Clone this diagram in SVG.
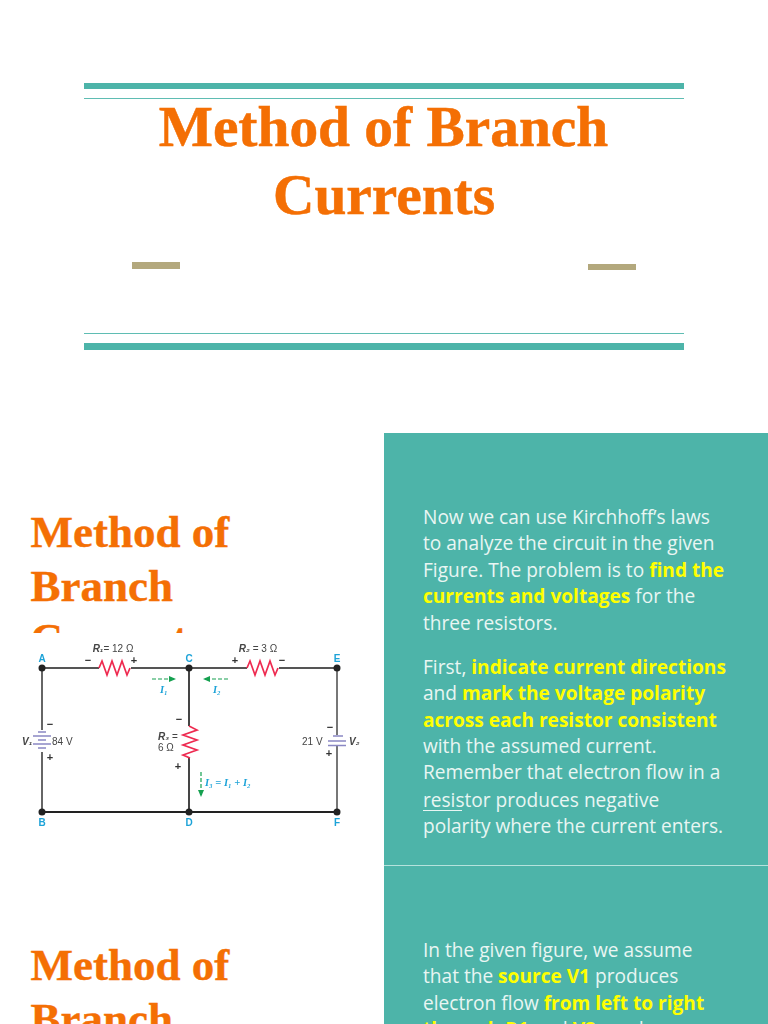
<svg xmlns="http://www.w3.org/2000/svg" width="768" height="1024" viewBox="0 0 768 1024">
<style>
.teal{fill:#4db4a9}
.thin{fill:#5fbdb3}
.tan{fill:#b3a87d}
.ttl{font-family:"Liberation Serif",serif;font-weight:700;fill:#f46f04;stroke:#f46f04;stroke-width:.5;font-size:57.4px}
.sub{font-family:"Liberation Serif",serif;font-weight:700;fill:#f46f04;stroke:#f46f04;stroke-width:.4;font-size:45px}
.body{font-family:"Open Sans",sans-serif;font-size:19.1px;fill:#e9f6f3}
.hl{font-weight:700;fill:#ffff00}
.w{fill:none;stroke-width:2}
.r{fill:none;stroke:#ee2a50;stroke-width:1.7}
.n{fill:#222}
.lb{font-family:"Liberation Sans",sans-serif;font-size:10px;fill:#444}
.lbi{font-style:italic;font-weight:700}
.nd{font-family:"Liberation Sans",sans-serif;font-size:10px;fill:#1ea3d8;font-weight:700}
.cur{font-family:"Liberation Serif",serif;font-size:10.5px;fill:#1ea3d8;font-style:italic;font-weight:700}
.ar{stroke:#12a050;stroke-width:1.2;stroke-dasharray:4 2;fill:none}
.ah{fill:#12a050}
.bt{stroke:#8a88c4;stroke-width:1.5}
.sg{font-family:"Liberation Sans",sans-serif;font-size:11px;fill:#333;font-weight:700;text-anchor:middle}
</style>
<defs>
<filter id="soft" x="0" y="0" width="1" height="1"><feGaussianBlur stdDeviation="0.3"/></filter>
<clipPath id="c1"><rect x="0" y="610" width="300" height="23"/></clipPath>
</defs>
<rect width="768" height="1024" fill="#fff"/>
<g id="title-slide">
<rect class="teal" x="84" y="83" width="600" height="6"/>
<rect class="thin" x="84" y="98" width="600" height="1"/>
<text class="ttl" x="383.500" y="145.500" text-anchor="middle">Method of Branch</text>
<text class="ttl" x="384" y="214" text-anchor="middle">Currents</text>
<rect class="tan" x="132" y="262" width="48" height="7"/>
<rect class="tan" x="588" y="264" width="48" height="6"/>
<rect class="thin" x="84" y="333" width="600" height="1"/>
<rect class="teal" x="84" y="343" width="600" height="7"/>
</g>
<g id="panel-right">
<rect class="teal" x="384" y="433" width="384" height="591"/>
<rect x="384" y="865" width="384" height="1" fill="#b5e2dc"/>
<text class="body" x="423" y="524">Now we can use Kirchhoff’s laws</text>
<text class="body" x="423" y="550">to analyze the circuit in the given</text>
<text class="body" x="423" y="577">Figure. The problem is to <tspan class="hl">find the</tspan></text>
<text class="body" x="423" y="603"><tspan class="hl">currents and voltages</tspan> for the</text>
<text class="body" x="423" y="629.500">three resistors.</text>
<text class="body" x="423" y="673.500">First, <tspan class="hl">indicate current directions</tspan></text>
<text class="body" x="423" y="700">and <tspan class="hl">mark the voltage polarity</tspan></text>
<text class="body" x="423" y="726.500"><tspan class="hl">across each resistor consistent</tspan></text>
<text class="body" x="423" y="753">with the assumed current.</text>
<text class="body" x="423" y="779">Remember that electron flow in a</text>
<text class="body" x="423" y="806.500">resistor produces negative</text>
<rect x="423" y="810" width="39" height="1" fill="#e9f6f3"/>
<text class="body" x="423" y="833">polarity where the current enters.</text>
<text class="body" x="423" y="957">In the given figure, we assume</text>
<text class="body" x="423" y="983">that the <tspan class="hl">source V1</tspan> produces</text>
<text class="body" x="423" y="1010">electron flow <tspan class="hl">from left to right</tspan></text>
<text class="body" x="423" y="1036">
<tspan class="hl">through R1</tspan> and <tspan class="hl">V2</tspan> produces</text>
</g>
<g id="heading-1">
<text class="sub" x="30.500" y="547">Method of</text>
<text class="sub" x="30.500" y="600.500">Branch</text>
<text class="sub" x="30.500" y="654" clip-path="url(#c1)">Currents</text>
</g>
<g id="heading-2">
<text class="sub" x="30.500" y="979.500">Method of</text>
<text class="sub" x="30.500" y="1033.500">Branch</text>
</g>
<g id="circuit" filter="url(#soft)">
<g id="connectors">
<path class="w" stroke="#555" d="M42 668H99M131 668H247M279 668H337"/>
<path class="w" stroke="#666" d="M42 668V730M42 752V812"/>
<path class="w" stroke="#444" d="M189 668V726M189 758V812"/>
<path class="w" stroke="#777" d="M337 668V735M337 746V812"/>
<path class="w" stroke="#222" stroke-width="2.5" d="M42 812H337"/>
</g>
<g id="R1"><path class="r" d="M99 668l3 -7 5 14 5 -14 5 14 5 -14 5 14 3 -7"/></g>
<g id="R2"><path class="r" d="M247 668l3 -7 5 14 5 -14 5 14 5 -14 5 14 3 -7"/></g>
<g id="R3"><path class="r" d="M189 726l8 4 -14 5 14 5 -14 5 14 5 -14 5 7 3"/></g>
<g id="V1"><path class="bt" d="M38 732H46M33 736H51M38 740H46M33 744H51M38 748H46"/></g>
<g id="V2"><path class="bt" d="M333 736H343M328 741H346M328 745.500H346"/></g>
<g id="nodes">
<circle class="n" cx="42" cy="668" r="3.5"/><circle class="n" cx="189" cy="668" r="3.5"/><circle class="n" cx="337" cy="668" r="3.5"/>
<circle class="n" cx="42" cy="812" r="3.5"/><circle class="n" cx="189" cy="812" r="3.5"/><circle class="n" cx="337" cy="812" r="3.5"/>
</g>
<g id="labels">
<text class="nd" x="42" y="662" text-anchor="middle">A</text>
<text class="nd" x="189" y="662" text-anchor="middle">C</text>
<text class="nd" x="337" y="662" text-anchor="middle">E</text>
<text class="nd" x="42" y="826" text-anchor="middle">B</text>
<text class="nd" x="189" y="826" text-anchor="middle">D</text>
<text class="nd" x="337" y="826" text-anchor="middle">F</text>
<text class="lb" x="113" y="651.500" text-anchor="middle"><tspan class="lbi">R₁</tspan>= 12 Ω</text>
<text class="lb" x="258" y="651.500" text-anchor="middle"><tspan class="lbi">R₂</tspan> = 3 Ω</text>
<text class="lb" x="158" y="740"><tspan class="lbi">R₃</tspan> =</text>
<text class="lb" x="158" y="751">6 Ω</text>
<text class="lb" x="22" y="745"><tspan class="lbi">V₁</tspan></text>
<text class="lb" x="52" y="745">84  V</text>
<text class="lb" x="302" y="745">21 V</text>
<text class="lb" x="349" y="745"><tspan class="lbi">V₂</tspan></text>
<text class="sg" x="88" y="664">−</text><text class="sg" x="134" y="664">+</text>
<text class="sg" x="235" y="664">+</text><text class="sg" x="282" y="664">−</text>
<text class="sg" x="50" y="728">−</text><text class="sg" x="50" y="761">+</text>
<text class="sg" x="179" y="723">−</text><text class="sg" x="178" y="770">+</text>
<text class="sg" x="330" y="731">−</text><text class="sg" x="329" y="757">+</text>
<text class="cur" x="160" y="693">I₁</text>
<text class="cur" x="213" y="693">I₂</text>
<text class="cur" x="205" y="786">I₃ =  I₁ + I₂</text>
</g>
<g id="current-arrows">
<path class="ar" d="M152 679H171"/><path class="ah" d="M169 676l7 3 -7 3z"/>
<path class="ar" d="M228 679H209"/><path class="ah" d="M210 676l-7 3 7 3z"/>
<path class="ar" d="M201 772V791"/><path class="ah" d="M198 790l3 7 3 -7z"/>
</g>
</g>
</svg>
